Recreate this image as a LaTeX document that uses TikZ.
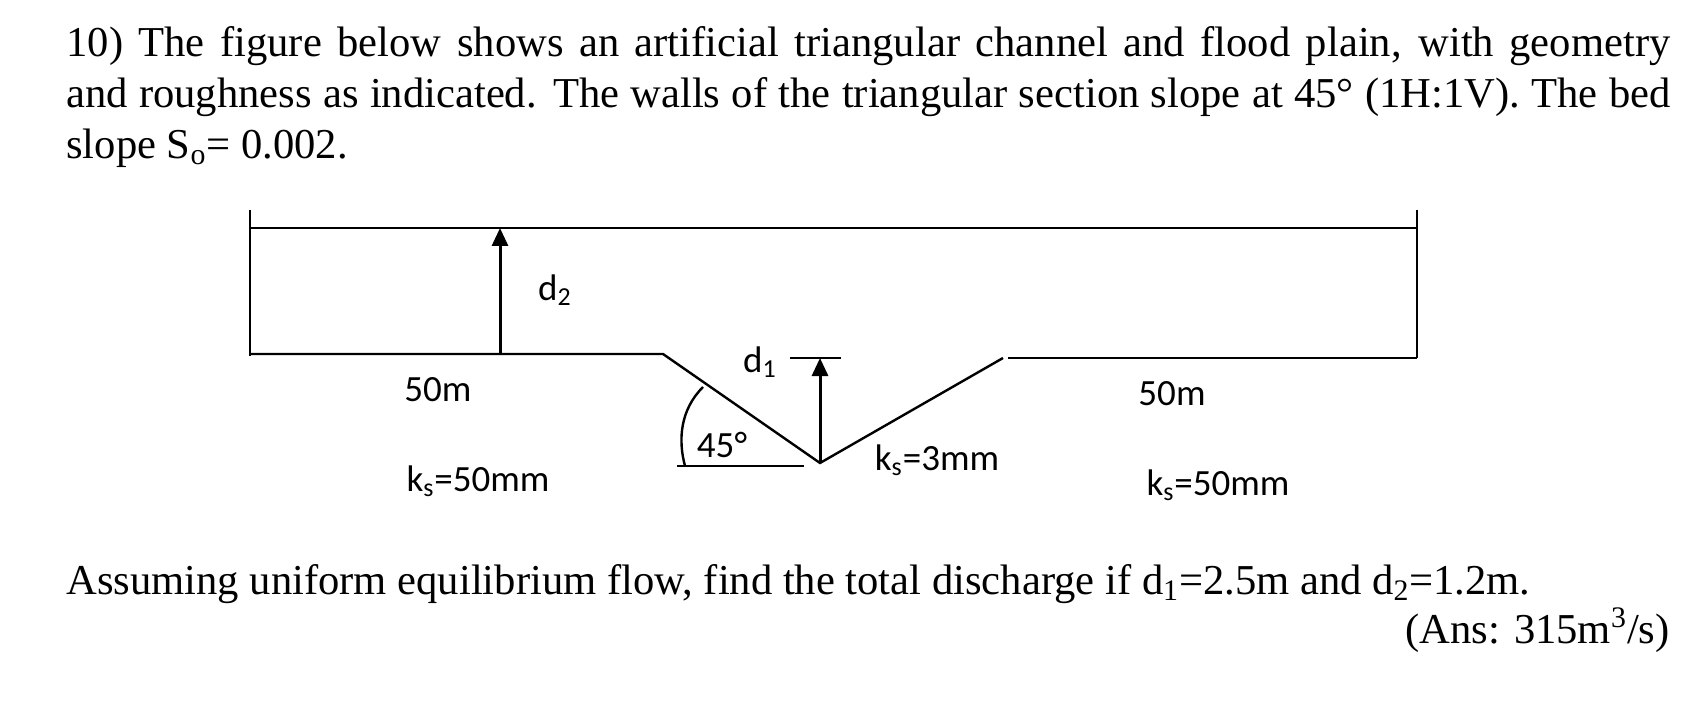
\documentclass[tikz,border=0pt]{standalone}
\usepackage{fontspec}
\usetikzlibrary{arrows.meta}
\setmainfont{Liberation Serif}
\newfontfamily\lbl{Carlito}
\begin{document}
\begin{tikzpicture}[x=0.5pt,y=-0.5pt,
  ln/.style={line width=1.2pt},
  arr/.style={line width=1.5pt,-{Triangle[length=9pt,width=8pt]}},
  lab/.style={font=\lbl\fontsize{18.5}{20}\selectfont,inner sep=0pt},
  txt/.style={font=\fontsize{21.3}{25.5}\selectfont,inner sep=0pt}]
\useasboundingbox (0,0) rectangle (1706,716);
\node[txt,anchor=north west,text width=802pt,align=justify] (para) at (66,26)
 {10) The figure below shows an artificial triangular channel and flood plain, with geometry\linebreak and roughness as indicated. The walls of the triangular section slope at 45° (1H:1V). The bed\linebreak slope S\textsubscript{o}= 0.002.};
\coordinate (tl) at (250,228); \coordinate (tr) at (1417,228);
\coordinate (vl1) at (250,210); \coordinate (vl2) at (250,356);
\coordinate (vr1) at (1417,210); \coordinate (vr2) at (1417,358);
\coordinate (fl) at (250,354); \coordinate (ls) at (663,354);
\coordinate (bot) at (820,463); \coordinate (rs) at (1003,358);
\coordinate (fr) at (1417,358);
\draw[ln] (tl)--(tr); \draw[ln] (vl1)--(vl2); \draw[ln] (vr1)--(vr2);
\draw[ln] (fl)--(ls)--(bot)--(rs); \draw[ln] (1008,358)--(fr);
\coordinate (d1b) at (820,463); \coordinate (d1t) at (820,358);
\draw[arr] (d1b)--(d1t);
\draw[ln] (790,358)--(841,358);
\coordinate (d2b) at (500,354); \coordinate (d2t) at (500,228);
\draw[arr] (d2b)--(d2t);
\draw[ln] (677,466)--(804,466);
\draw[ln] (703,387) .. controls (680,410) and (678,440) .. (685,466);
\node[lab] (d1) at (760,362) {d\textsubscript{1}};
\node[lab] (d2) at (555,290) {d\textsubscript{2}};
\node[lab] (a45) at (722,445) {45°};
\node[lab] (m1) at (438,390) {50m};
\node[lab] (k1) at (478,481) {k\textsubscript{s}=50mm};
\node[lab] (m2) at (1172,394) {50m};
\node[lab] (k2) at (1218,485) {k\textsubscript{s}=50mm};
\node[lab] (k3) at (937,460) {k\textsubscript{s}=3mm};
\node[txt,anchor=base west] (q) at (66,594) {Assuming uniform equilibrium flow, find the total discharge if d\textsubscript{1}=2.5m and d\textsubscript{2}=1.2m.};
\node[txt,anchor=base east] (ans) at (1670,643) {(Ans: 315m\textsuperscript{3}/s)};
\end{tikzpicture}
\end{document}
